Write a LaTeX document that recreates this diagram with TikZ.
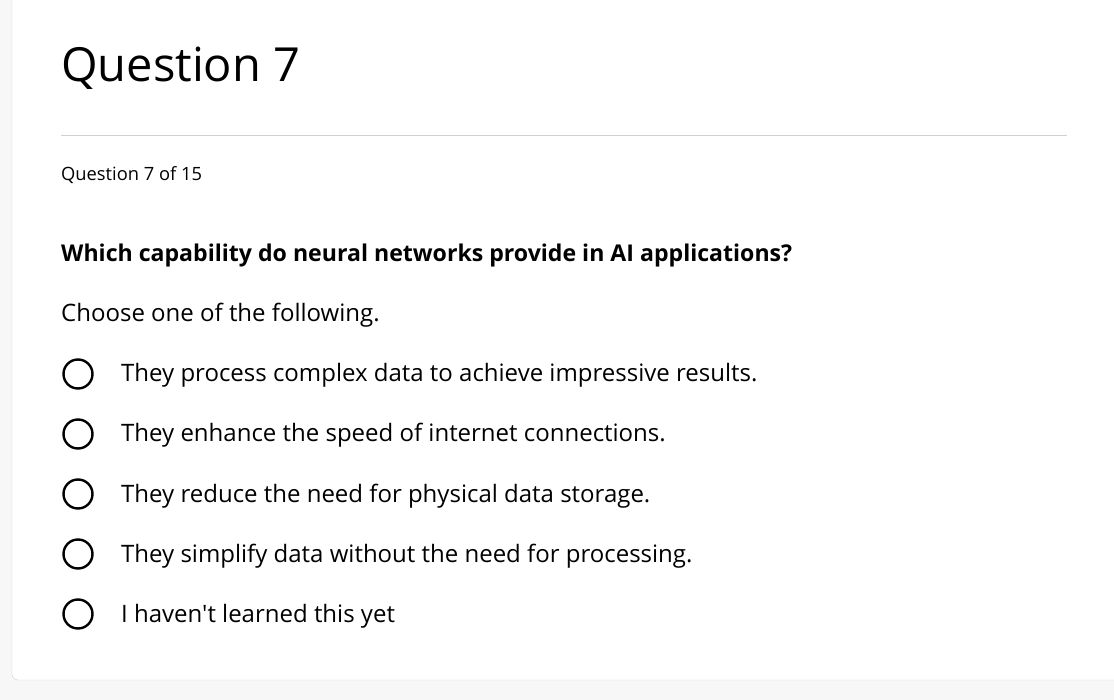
\documentclass[tikz,border=0pt]{standalone}
\usepackage{fontspec}
\setmainfont{Open Sans}[Ligatures=TeXOff]
\definecolor{cardline}{HTML}{D0D0D0}
\definecolor{pagebg}{HTML}{F7F7F7}
\begin{document}
\begin{tikzpicture}
[
    x=1pt, y=-1pt,
    option/.style={anchor=base west, inner sep=0pt, font=\fontsize{24}{28}\selectfont},
    radio/.style={circle, draw=black, line width=2.4pt, minimum size=29pt, inner sep=0pt},
]
\useasboundingbox (0,0) rectangle (1114,700);
\fill[pagebg] (0,0) rectangle (1114,700);
\filldraw[fill=white, draw=cardline, rounded corners=6pt] (12,-20) rectangle (1130,680);
\node [anchor=base west, inner sep=0pt, font=\fontsize{47}{50}\selectfont] (title) at (61,82) {Question 7};
\draw[cardline] (61,135) -- (1067,135);
\node [anchor=base west, inner sep=0pt, font=\fontsize{18.3}{21}\selectfont] (count) at (61,181) {Question 7 of 15};
\node [anchor=base west, inner sep=0pt, font=\fontsize{23.1}{27}\selectfont\bfseries] (ask) at (61,262) {Which capability do neural networks provide in AI applications?};
\node [option] (hint) at (61,322) {Choose one of the following.};
\foreach \txt [count=\i] in {They process complex data to achieve impressive results.,
    They enhance the speed of internet connections.,
    They reduce the need for physical data storage.,
    They simplify data without the need for processing.,
    I haven't learned this yet}
{
    \node [radio] (r\i) at (78,314+60*\i) {};
    \node [option] (o\i) at (121,322+60*\i) {\txt};
}
\end{tikzpicture}
\end{document}
